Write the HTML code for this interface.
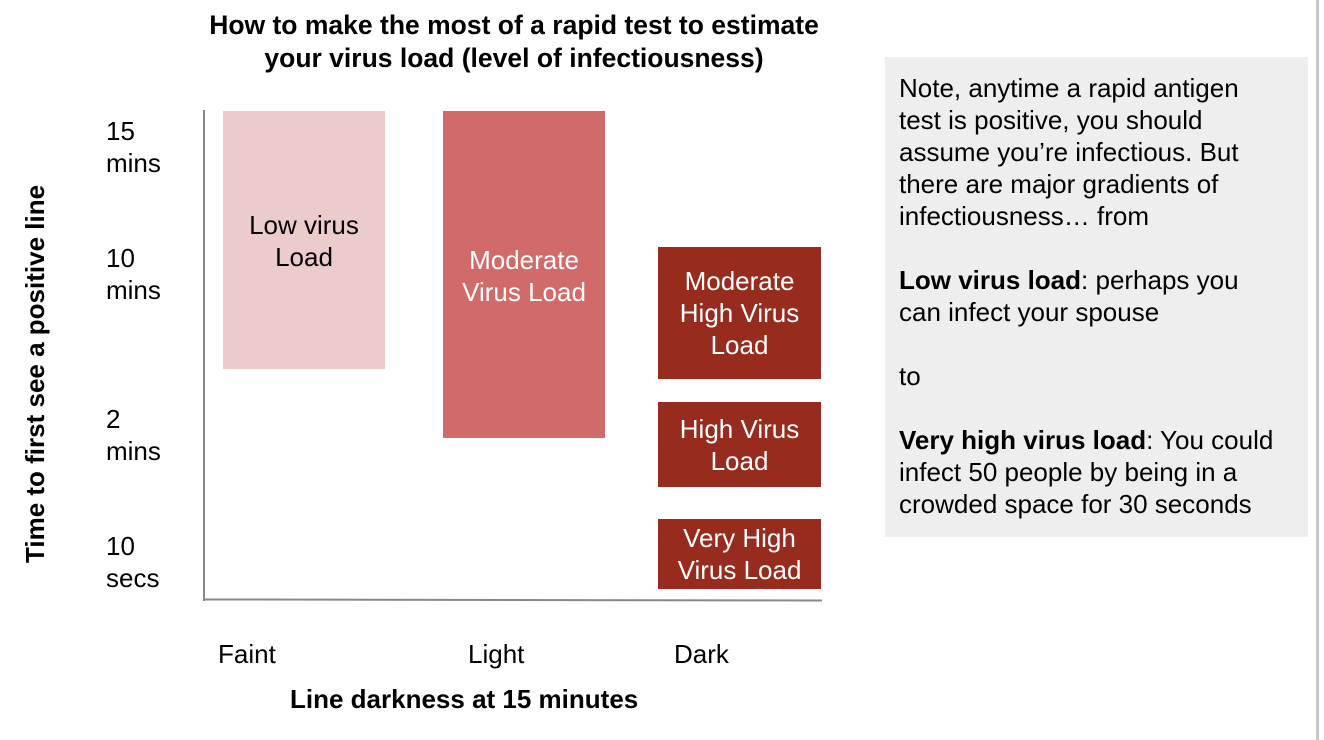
<!DOCTYPE html>
<html><head><meta charset="utf-8"><style>
body{margin:0;width:1324px;height:740px;background:#fff;position:relative;overflow:hidden;font-family:"Liberation Sans",Arial,sans-serif;color:#000}
div{position:absolute}
.t{font-size:26px;line-height:32px;white-space:nowrap}
.c{text-align:center;display:flex;align-items:center;justify-content:center}
.w{color:#fff}
</style></head><body>
<div class="t" style="left:164px;top:9px;width:700px;text-align:center;font-weight:bold;line-height:33px;font-size:26.5px">How to make the most of a rapid test to estimate<br>your virus load (level of infectiousness)</div>
<div style="left:203px;top:110px;width:2px;height:491px;background:#888"></div>
<div style="left:204px;top:599px;width:618px;height:2px;background:#888;transform:rotate(0.1deg)"></div>
<div class="t" style="left:106px;top:115px">15<br>mins</div>
<div class="t" style="left:106px;top:242px">10<br>mins</div>
<div class="t" style="left:106px;top:403px">2<br>mins</div>
<div class="t" style="left:106px;top:530px">10<br>secs</div>
<div class="t" style="left:-165px;top:358px;width:400px;text-align:center;font-weight:bold;transform:rotate(-90deg)">Time to first see a positive line</div>
<div class="t c" style="left:223px;top:111px;width:162px;height:258px;background:#eccccb;align-items:flex-start"><span style="margin-top:98px">Low virus<br>Load</span></div>
<div class="t c w" style="left:443px;top:111px;width:162px;height:327px;background:#d16b69;align-items:flex-start"><span style="margin-top:133px">Moderate<br>Virus Load</span></div>
<div class="t c w" style="left:658px;top:247px;width:163px;height:132px;background:#972b1d">Moderate<br>High Virus<br>Load</div>
<div class="t c w" style="left:658px;top:402px;width:163px;height:85px;background:#972b1d">High Virus<br>Load</div>
<div class="t c w" style="left:658px;top:519px;width:163px;height:70px;background:#972b1d">Very High<br>Virus Load</div>
<div class="t" style="left:218px;top:638px">Faint</div>
<div class="t" style="left:468px;top:638px">Light</div>
<div class="t" style="left:674px;top:638px">Dark</div>
<div class="t" style="left:290px;top:683px;font-weight:bold">Line darkness at 15 minutes</div>
<div class="t" style="left:885px;top:57px;width:423px;height:480px;background:#eeeeee;padding:15px 0 0 14px;box-sizing:border-box">Note, anytime a rapid antigen<br>test is positive, you should<br>assume you’re infectious. But<br>there are major gradients of<br>infectiousness… from<br><br><b>Low virus load</b>: perhaps you<br>can infect your spouse<br><br>to<br><br><b>Very high virus load</b>: You could<br>infect 50 people by being in a<br>crowded space for 30 seconds</div>
<div style="left:1316px;top:0;width:3px;height:740px;background:#c8c8c8"></div>
</body></html>
